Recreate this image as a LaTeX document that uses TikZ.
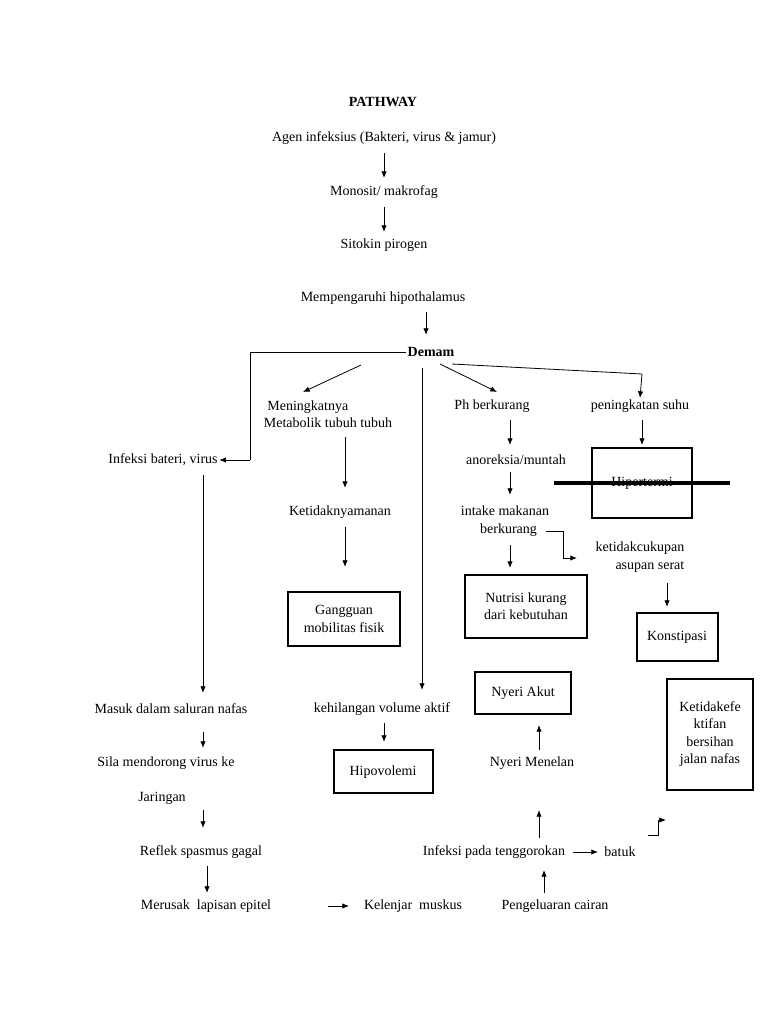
\documentclass[tikz,border=0pt]{standalone}
\usepackage{fontspec}
\setmainfont{Liberation Serif}
\usetikzlibrary{arrows.meta}
\begin{document}
\begin{tikzpicture}[x=0.75pt,y=-0.75pt,
 t/.style={font=\fontsize{10.5}{13}\selectfont,inner sep=1pt},
 bx/.style={draw,line width=1.3pt,font=\fontsize{10.5}{13}\selectfont,align=center,inner sep=0pt},
 ar/.style={-{Latex[length=5pt,width=4pt]},line width=0.6pt},
 ln/.style={line width=0.6pt}]
\useasboundingbox (0,0) rectangle (768,1024);
\node[t,font=\bfseries\fontsize{10.5}{13}\selectfont] (title) at (383,102) {PATHWAY};
\node[t] (agen) at (384,138) {Agen infeksius (Bakteri, virus \& jamur)};
\node[t] (mono) at (384,192) {Monosit/ makrofag};
\node[t] (sito) at (384,245) {Sitokin pirogen};
\node[t] (hipo) at (383,298) {Mempengaruhi hipothalamus};
\node[t,font=\bfseries\fontsize{10.5}{13}\selectfont] (demam) at (431,352) {Demam};
\node[t] (infb) at (163,460) {Infeksi bateri, virus};
\node[t,align=left] (meta) at (328,414) {\ Meningkatnya\\Metabolik tubuh tubuh};
\node[t] (ph) at (492,406) {Ph berkurang};
\node[t] (suhu) at (640,406) {peningkatan suhu};
\node[bx,minimum width=100\pgflinewidth] (hiper) at (642,483) {};
\node[bx] (hiperb) at (642,483) {\makebox[98pt]{}\\[-13pt]};
\node[t] (anor) at (516,460) {anoreksia/muntah};
\node[t,align=center] (intake) at (505,521) {intake makanan\\\ \ berkurang};
\node[t,align=right] (serat) at (640,557) {ketidakcukupan\\asupan serat};
\node[t] (keti) at (340,512) {Ketidaknyamanan};
\node[t] (masuk) at (171,709) {Masuk dalam saluran nafas};
\node[t] (sila) at (166,763) {Sila mendorong virus ke};
\node[t] (jar) at (162,798) {Jaringan};
\node[t] (ref) at (201,852) {Reflek spasmus gagal};
\node[t] (meru) at (206,906) {Merusak\ \ lapisan epitel};
\node[t] (kel) at (413,906) {Kelenjar\ \ muskus};
\node[t] (peng) at (555,906) {Pengeluaran cairan};
\node[t] (kehil) at (382,709) {kehilangan volume aktif};
\node[t] (nmen) at (532,763) {Nyeri Menelan};
\node[t] (inft) at (494,852) {Infeksi pada tenggorokan};
\node[t] (batuk) at (620,852) {batuk};
% boxes
\draw[line width=1.3pt] (592,448) rectangle (692,518);
\node[t] (hipert) at (642,483) {Hipertermi};
\draw[line width=1.3pt] (465,575) rectangle (587,638);
\node[t,align=center] (nutri) at (526,606) {Nutrisi kurang\\dari kebutuhan};
\draw[line width=1.3pt] (637,613) rectangle (718,661);
\node[t] (konst) at (677,637) {Konstipasi};
\draw[line width=1.3pt] (288,592) rectangle (400,646);
\node[t,align=center] (gang) at (344,619) {Gangguan\\mobilitas fisik};
\draw[line width=1.3pt] (334,750) rectangle (433,793);
\node[t] (hipov) at (383,772) {Hipovolemi};
\draw[line width=1.3pt] (475,672) rectangle (571,714);
\node[t] (nakut) at (523,693) {Nyeri Akut};
\draw[line width=1.3pt] (667,679) rectangle (753,790);
\node[t,align=center] (ketef) at (710,734) {Ketidakefe\\ktifan\\bersihan\\jalan nafas};
% connectors
\coordinate (a1) at (384,153); \coordinate (a2) at (384,178);
\draw[ar] (a1) -- (a2);
\draw[ar] (384,207) -- (384,232);
\draw[ar] (426,312) -- (426,335);
\draw[ln] (demam.west) -- (250,352) -- (250,460);
\draw[ar] (250,460) -- (infb.east);
\draw[ar] (361,365) -- (303,392);
\draw[ar] (440,364) -- (497,392);
\draw[ln] (452,364) -- (642,374);
\draw[ar] (642,374) -- (suhu.north);
\draw[ar] (422,368) -- (422,690);
\draw[ar] (642,420) -- (642,445);
\draw[ar] (510,420) -- (510,445);
\draw[ar] (510,472) -- (510,495);
\draw[ln] (546,531) -- (563,531) -- (563,558);
\draw[ar] (563,558) -- (577,558);
\draw[ar] (510,545) -- (510,568);
\draw[ar] (667,583) -- (667,607);
\draw[ln] (345,437) -- (345,470);
\draw[ar] (345,470) -- (345,488);
\draw[ar] (345,527) -- (345,567);
\draw[ar] (203,475) -- (203,693);
\draw[ar] (203,732) -- (203,748);
\draw[ar] (203,810) -- (203,828);
\draw[ar] (207,866) -- (207,893);
\draw[ar] (328,906) -- (349,906);
\draw[ar] (384,723) -- (384,742);
\draw[ar] (539,750) -- (539,725);
\draw[ar] (539,838) -- (539,810);
\draw[ar] (573,852) -- (598,852);
\draw[ln] (648,835) -- (658,835) -- (658,820);
\draw[ar] (658,820) -- (666,820);
\draw[ar] (544,893) -- (544,870);
\end{tikzpicture}
\end{document}
